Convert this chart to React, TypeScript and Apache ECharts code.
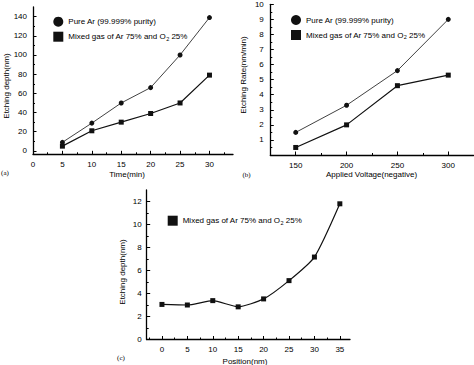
import React, { useEffect, useRef } from "react";
import * as echarts from "echarts";

const PURE = "Pure Ar (99.999% purity)";
const MIX = "Mixed gas of Ar 75% and O2 25%";

// (a) etching depth vs time
const timeMin = [5, 10, 15, 20, 25, 30];
const pureArDepth = [9, 29, 50, 66, 100, 139];
const mixedDepth = [5, 21, 30, 39, 50, 79];
const aXLabels = [0, 5, 10, 15, 20, 25, 30];
const aXMinor = [2.5, 7.5, 12.5, 17.5, 22.5, 27.5, 32.5];
const aYLabels = [0, 20, 40, 60, 80, 100, 120, 140];
const aYMinor = [10, 30, 50, 70, 90, 110, 130];

// (b) etching rate vs applied voltage
const voltage = [150, 200, 250, 300];
const pureArRate = [1.5, 3.3, 5.6, 9.0];
const mixedRate = [0.5, 2.0, 4.6, 5.3];
const bXLabels = [150, 200, 250, 300];
const bXMinor = [175, 225, 275];
const bYLabels = [1, 2, 3, 4, 5, 6, 7, 8, 9, 10];
const bYMinor = [0.5, 1.5, 2.5, 3.5, 4.5, 5.5, 6.5, 7.5, 8.5, 9.5];

// (c) etching depth vs position
const position = [0, 5, 10, 15, 20, 25, 30, 35];
const positionDepth = [3.05, 3.0, 3.38, 2.84, 3.53, 5.12, 7.17, 11.8];
const cXLabels = [0, 5, 10, 15, 20, 25, 30, 35];
const cXMinor = [-2.5, 2.5, 7.5, 12.5, 17.5, 22.5, 27.5, 32.5];
const cYLabels = [0, 2, 4, 6, 8, 10, 12];
const cYMinor = [1, 3, 5, 7, 9, 11];

const FONT = "Liberation Sans";
const SERIF = "Liberation Serif";
const FS = 8;
const INK = "#111";

const zip = (xs: number[], ys: number[]) => xs.map((x, i) => [x, ys[i]]);

function majorAxis(gridIndex: number, pos: string, min: number, max: number, labels: number[], margin: number) {
  return {
    type: "value",
    gridIndex,
    position: pos,
    min,
    max,
    axisLine: { show: true, onZero: false, lineStyle: { color: "#000", width: 1.3 } },
    axisTick: { show: true, inside: true, length: 3.5, customValues: labels, lineStyle: { color: "#000", width: 1 } },
    axisLabel: { show: true, customValues: labels, margin, color: "#000", fontSize: FS, fontFamily: FONT },
    splitLine: { show: false },
  };
}

function minorAxis(gridIndex: number, pos: string, min: number, max: number, ticks: number[]) {
  return {
    type: "value",
    gridIndex,
    position: pos,
    min,
    max,
    axisLine: { show: false, onZero: false },
    axisTick: { show: true, inside: true, length: 2, customValues: ticks, lineStyle: { color: "#000", width: 1 } },
    axisLabel: { show: false },
    splitLine: { show: false },
  };
}

const legendFormatter = (name: string) =>
  name === MIX ? "{t|Mixed gas of Ar 75% and O}{sub|2}{t| 25%}" : "{t|" + name + "}";
const legendText = {
  fontSize: FS,
  fontFamily: FONT,
  color: "#000",
  rich: {
    t: { fontSize: FS, fontFamily: FONT, color: "#000" },
    sub: { fontSize: 5.5, fontFamily: FONT, color: "#000", verticalAlign: "bottom", padding: [4, 0, 0, 0] },
  },
};

function makeLegend(left: number, top: number, items: { name: string; icon: string }[]) {
  return {
    left,
    top,
    orient: "vertical",
    itemWidth: 10,
    itemHeight: 10,
    itemGap: 5,
    selectedMode: false,
    data: items,
    formatter: legendFormatter,
    textStyle: legendText,
  };
}

function lineSeries(name: string, xi: number, data: number[][], symbol: string, width: number, smooth: number | boolean) {
  return {
    type: "line",
    name,
    xAxisIndex: xi,
    yAxisIndex: xi,
    data,
    symbol,
    symbolSize: 5,
    smooth,
    lineStyle: { color: "#111", width },
    itemStyle: { color: INK },
  };
}

function label(text: string, x: number, y: number, rot = 0, fontSize = FS, family = FONT) {
  return {
    type: "text",
    x,
    y,
    rotation: rot,
    style: { text, fontSize, fontFamily: family, fill: "#000", align: "center", verticalAlign: "middle" },
  };
}

export default function App() {
  const ref = useRef<HTMLDivElement>(null);
  useEffect(() => {
    if (!ref.current) return;
    const chart = echarts.init(ref.current, undefined, { renderer: "svg" });
    chart.setOption({
      animation: false,
      grid: [
        { left: 33, top: 7, width: 200, height: 147.3, outerBoundsMode: "none" },
        { left: 270.3, top: 4.3, width: 203.4, height: 150.7, outerBoundsMode: "none" },
        { left: 146.7, top: 190, width: 203.3, height: 149.5, outerBoundsMode: "none" },
      ],
      xAxis: [
        majorAxis(0, "bottom", 0, 34, aXLabels, 6),
        majorAxis(1, "bottom", 125, 325, bXLabels, 6),
        majorAxis(2, "bottom", -3, 37, cXLabels, 6),
        minorAxis(0, "bottom", 0, 34, aXMinor),
        minorAxis(1, "bottom", 125, 325, bXMinor),
        minorAxis(2, "bottom", -3, 37, cXMinor),
      ],
      yAxis: [
        majorAxis(0, "left", -3.5, 150, aYLabels, 6),
        majorAxis(1, "left", 0, 10, bYLabels, 6.5),
        majorAxis(2, "left", 0, 13, cYLabels, 5),
        minorAxis(0, "left", -3.5, 150, aYMinor),
        minorAxis(1, "left", 0, 10, bYMinor),
        minorAxis(2, "left", 0, 13, cYMinor),
      ],
      legend: [
        makeLegend(48.3, 11.7, [
          { name: PURE, icon: "circle" },
          { name: MIX, icon: "rect" },
        ]),
        makeLegend(286, 10, [
          { name: PURE, icon: "circle" },
          { name: MIX, icon: "rect" },
        ]),
        makeLegend(162.7, 210.7, [{ name: MIX, icon: "rect" }]),
      ],
      series: [
        lineSeries(PURE, 0, zip(timeMin, pureArDepth), "circle", 0.8, false),
        lineSeries(MIX, 0, zip(timeMin, mixedDepth), "rect", 1.2, false),
        lineSeries(PURE, 1, zip(voltage, pureArRate), "circle", 0.8, false),
        lineSeries(MIX, 1, zip(voltage, mixedRate), "rect", 1.2, false),
        lineSeries(MIX, 2, zip(position, positionDepth), "rect", 1.2, 0.2),
      ],
      graphic: [
        label("Time(min)", 127, 174),
        label("Etching depth(nm)", 6, 86, Math.PI / 2),
        label("(a)", 5, 173, 0, 7, SERIF),
        label("Applied Voltage(negative)", 371.5, 174),
        label("Etching Rate(nm/min)", 243, 75, Math.PI / 2),
        label("(b)", 246.5, 175, 0, 7, SERIF),
        label("Position(nm)", 245, 361.5),
        label("Etching depth(nm)", 122.5, 272, Math.PI / 2),
        label("(c)", 121, 358, 0, 7, SERIF),
      ],
    });
    return () => chart.dispose();
  }, []);
  return <div ref={ref} style={{ position: "absolute", left: 0, top: 0, width: 474, height: 365 }} />;
}
